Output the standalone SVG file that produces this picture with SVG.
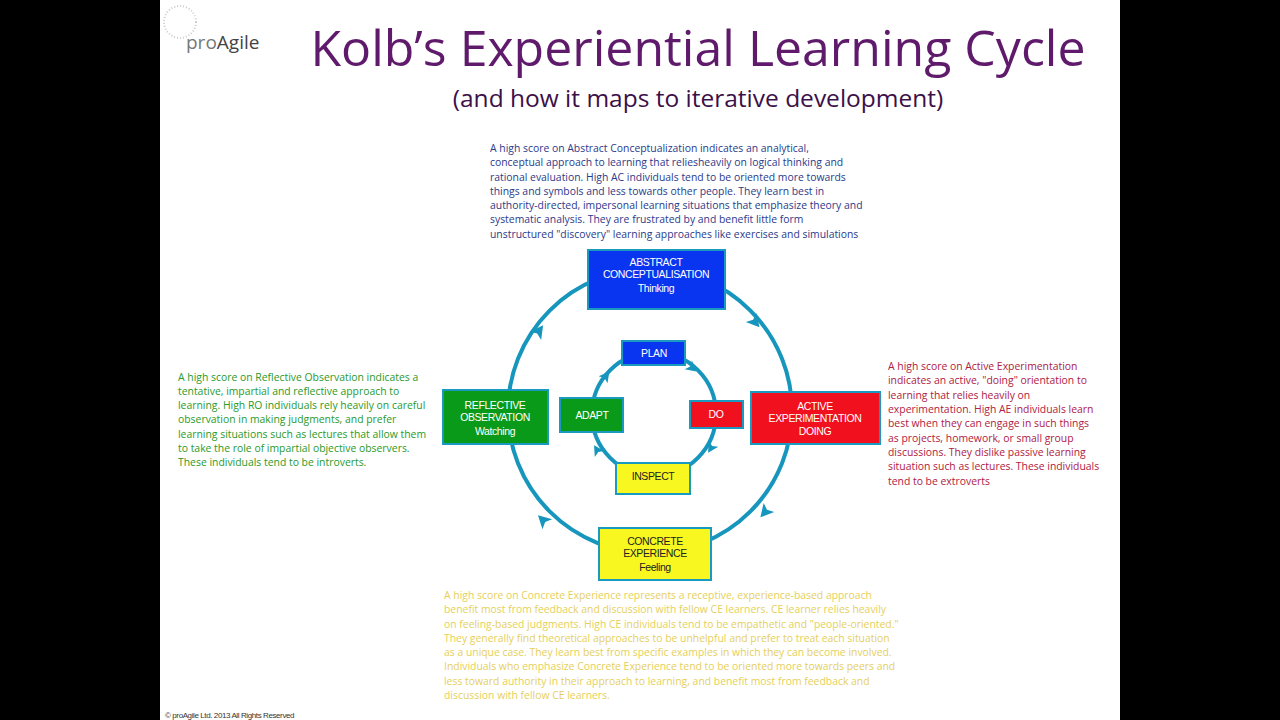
<svg xmlns="http://www.w3.org/2000/svg" width="1280" height="720" viewBox="0 0 1280 720">
<style>
.box{stroke:#1a9ac0;stroke-width:2}
.bt{font-family:"Liberation Sans",Arial,sans-serif;font-size:10.5px;text-anchor:middle;letter-spacing:-0.4px}
.w{fill:#fff}.k{fill:#222}
.para{font-family:"Open Sans","DejaVu Sans",sans-serif;font-size:10.4px;letter-spacing:0px}
.ring{fill:none;stroke:#1796bd;stroke-width:4}
.ah{fill:#1796bd}
</style>
<defs><polygon id="a" points="7,0 -6,-7 -3,0 -6,7"/></defs>
<rect width="1280" height="720" fill="#000"/>
<rect x="160" y="0" width="960" height="720" fill="#fff"/>
<g id="logo">
<circle cx="180" cy="22" r="16" fill="none" stroke="#ccc" stroke-width="2" stroke-dasharray="1 2"/>
<text x="186" y="49" font-family="Open Sans,sans-serif" font-size="19" fill="#777">pro<tspan fill="#444">Agile</tspan></text>
</g>
<text x="698" y="66" text-anchor="middle" font-family="Open Sans,sans-serif" font-size="50" fill="#5f1a6b">Kolb’s Experiential Learning Cycle</text>
<text x="698" y="107" text-anchor="middle" font-family="Open Sans,sans-serif" font-size="24.5" fill="#3c1048">(and how it maps to iterative development)</text>
<g id="connectors">
<circle class="ring" cx="650" cy="411" r="142"/>
<circle class="ring" cx="654" cy="414" r="62"/>
<use href="#a" class="ah" transform="translate(755,322) rotate(50)"/>
<use href="#a" class="ah" transform="translate(765,512) rotate(131)"/>
<use href="#a" class="ah" transform="translate(543,520) rotate(224)"/>
<use href="#a" class="ah" transform="translate(539,331) rotate(306)"/>
<use href="#a" class="ah" transform="translate(692,368) rotate(40) scale(0.8)"/>
<use href="#a" class="ah" transform="translate(711,448) rotate(121) scale(0.8)"/>
<use href="#a" class="ah" transform="translate(597,450) rotate(238) scale(0.8)"/>
<use href="#a" class="ah" transform="translate(606,376) rotate(308) scale(0.8)"/>
</g>
<g id="ac"><rect class="box" x="588" y="250" width="137" height="59" fill="#0a35f0"/>
<text class="bt w" x="656" y="266">ABSTRACT</text><text class="bt w" x="656" y="278">CONCEPTUALISATION</text><text class="bt w" x="656" y="292">Thinking</text></g>
<g id="ro"><rect class="box" x="443" y="390" width="105" height="54" fill="#0a9a1a"/>
<text class="bt w" x="495" y="409">REFLECTIVE</text><text class="bt w" x="495" y="421">OBSERVATION</text><text class="bt w" x="495" y="435">Watching</text></g>
<g id="ae"><rect class="box" x="751" y="392" width="129" height="52" fill="#f0101e"/>
<text class="bt w" x="815" y="410">ACTIVE</text><text class="bt w" x="815" y="422">EXPERIMENTATION</text><text class="bt w" x="815" y="435">DOING</text></g>
<g id="ce"><rect class="box" x="599" y="528" width="112" height="52" fill="#f8f820"/>
<text class="bt k" x="655" y="545">CONCRETE</text><text class="bt k" x="655" y="557">EXPERIENCE</text><text class="bt k" x="655" y="571">Feeling</text></g>
<g id="plan"><rect class="box" x="622" y="341" width="63" height="24" fill="#0a35f0"/><text class="bt w" x="654" y="357">PLAN</text></g>
<g id="adapt"><rect class="box" x="560" y="398" width="63" height="34" fill="#0a9a1a"/><text class="bt w" x="592" y="419">ADAPT</text></g>
<g id="do"><rect class="box" x="690" y="401" width="53" height="27" fill="#f0101e"/><text class="bt w" x="716" y="418">DO</text></g>
<g id="inspect"><rect class="box" x="616" y="463" width="74" height="31" fill="#f8f820"/><text class="bt k" x="653" y="480">INSPECT</text></g>
<text class="para" fill="#2b3a8a"><tspan x="490" y="152">A high score on Abstract Conceptualization indicates an analytical,</tspan><tspan x="490" y="166">conceptual approach to learning that reliesheavily on logical thinking and</tspan><tspan x="490" y="181">rational evaluation. High AC individuals tend to be oriented more towards</tspan><tspan x="490" y="195">things and symbols and less towards other people. They learn best in</tspan><tspan x="490" y="209">authority-directed, impersonal learning situations that emphasize theory and</tspan><tspan x="490" y="223">systematic analysis. They are frustrated by and benefit little form</tspan><tspan x="490" y="238">unstructured "discovery" learning approaches like exercises and simulations</tspan></text>
<text class="para" fill="#2a9a2a"><tspan x="178" y="381">A high score on Reflective Observation indicates a</tspan><tspan x="178" y="395">tentative, impartial and reflective approach to</tspan><tspan x="178" y="409">learning. High RO individuals rely heavily on careful</tspan><tspan x="178" y="423">observation in making judgments, and prefer</tspan><tspan x="178" y="438">learning situations such as lectures that allow them</tspan><tspan x="178" y="452">to take the role of impartial objective observers.</tspan><tspan x="178" y="466">These individuals tend to be introverts.</tspan></text>
<text class="para" fill="#b0203f"><tspan x="888" y="370">A high score on Active Experimentation</tspan><tspan x="888" y="384">indicates an active, "doing" orientation to</tspan><tspan x="888" y="399">learning that relies heavily on</tspan><tspan x="888" y="413">experimentation. High AE individuals learn</tspan><tspan x="888" y="427">best when they can engage in such things</tspan><tspan x="888" y="442">as projects, homework, or small group</tspan><tspan x="888" y="456">discussions. They dislike passive learning</tspan><tspan x="888" y="470">situation such as lectures. These individuals</tspan><tspan x="888" y="485">tend to be extroverts</tspan></text>
<text class="para" fill="#e6cf5a"><tspan x="444" y="599">A high score on Concrete Experience represents a receptive, experience-based approach</tspan><tspan x="444" y="613">benefit most from feedback and discussion with fellow CE learners. CE learner relies heavily</tspan><tspan x="444" y="628">on feeling-based judgments. High CE individuals tend to be empathetic and "people-oriented."</tspan><tspan x="444" y="642">They generally find theoretical approaches to be unhelpful and prefer to treat each situation</tspan><tspan x="444" y="656">as a unique case. They learn best from specific examples in which they can become involved.</tspan><tspan x="444" y="670">Individuals who emphasize Concrete Experience tend to be oriented more towards peers and</tspan><tspan x="444" y="685">less toward authority in their approach to learning, and benefit most from feedback and</tspan><tspan x="444" y="699">discussion with fellow CE learners.</tspan></text>
<text x="165" y="718" font-family="Liberation Sans,sans-serif" font-size="8" fill="#333" letter-spacing="-0.4">© proAgile Ltd. 2013 All Rights Reserved</text>
</svg>
